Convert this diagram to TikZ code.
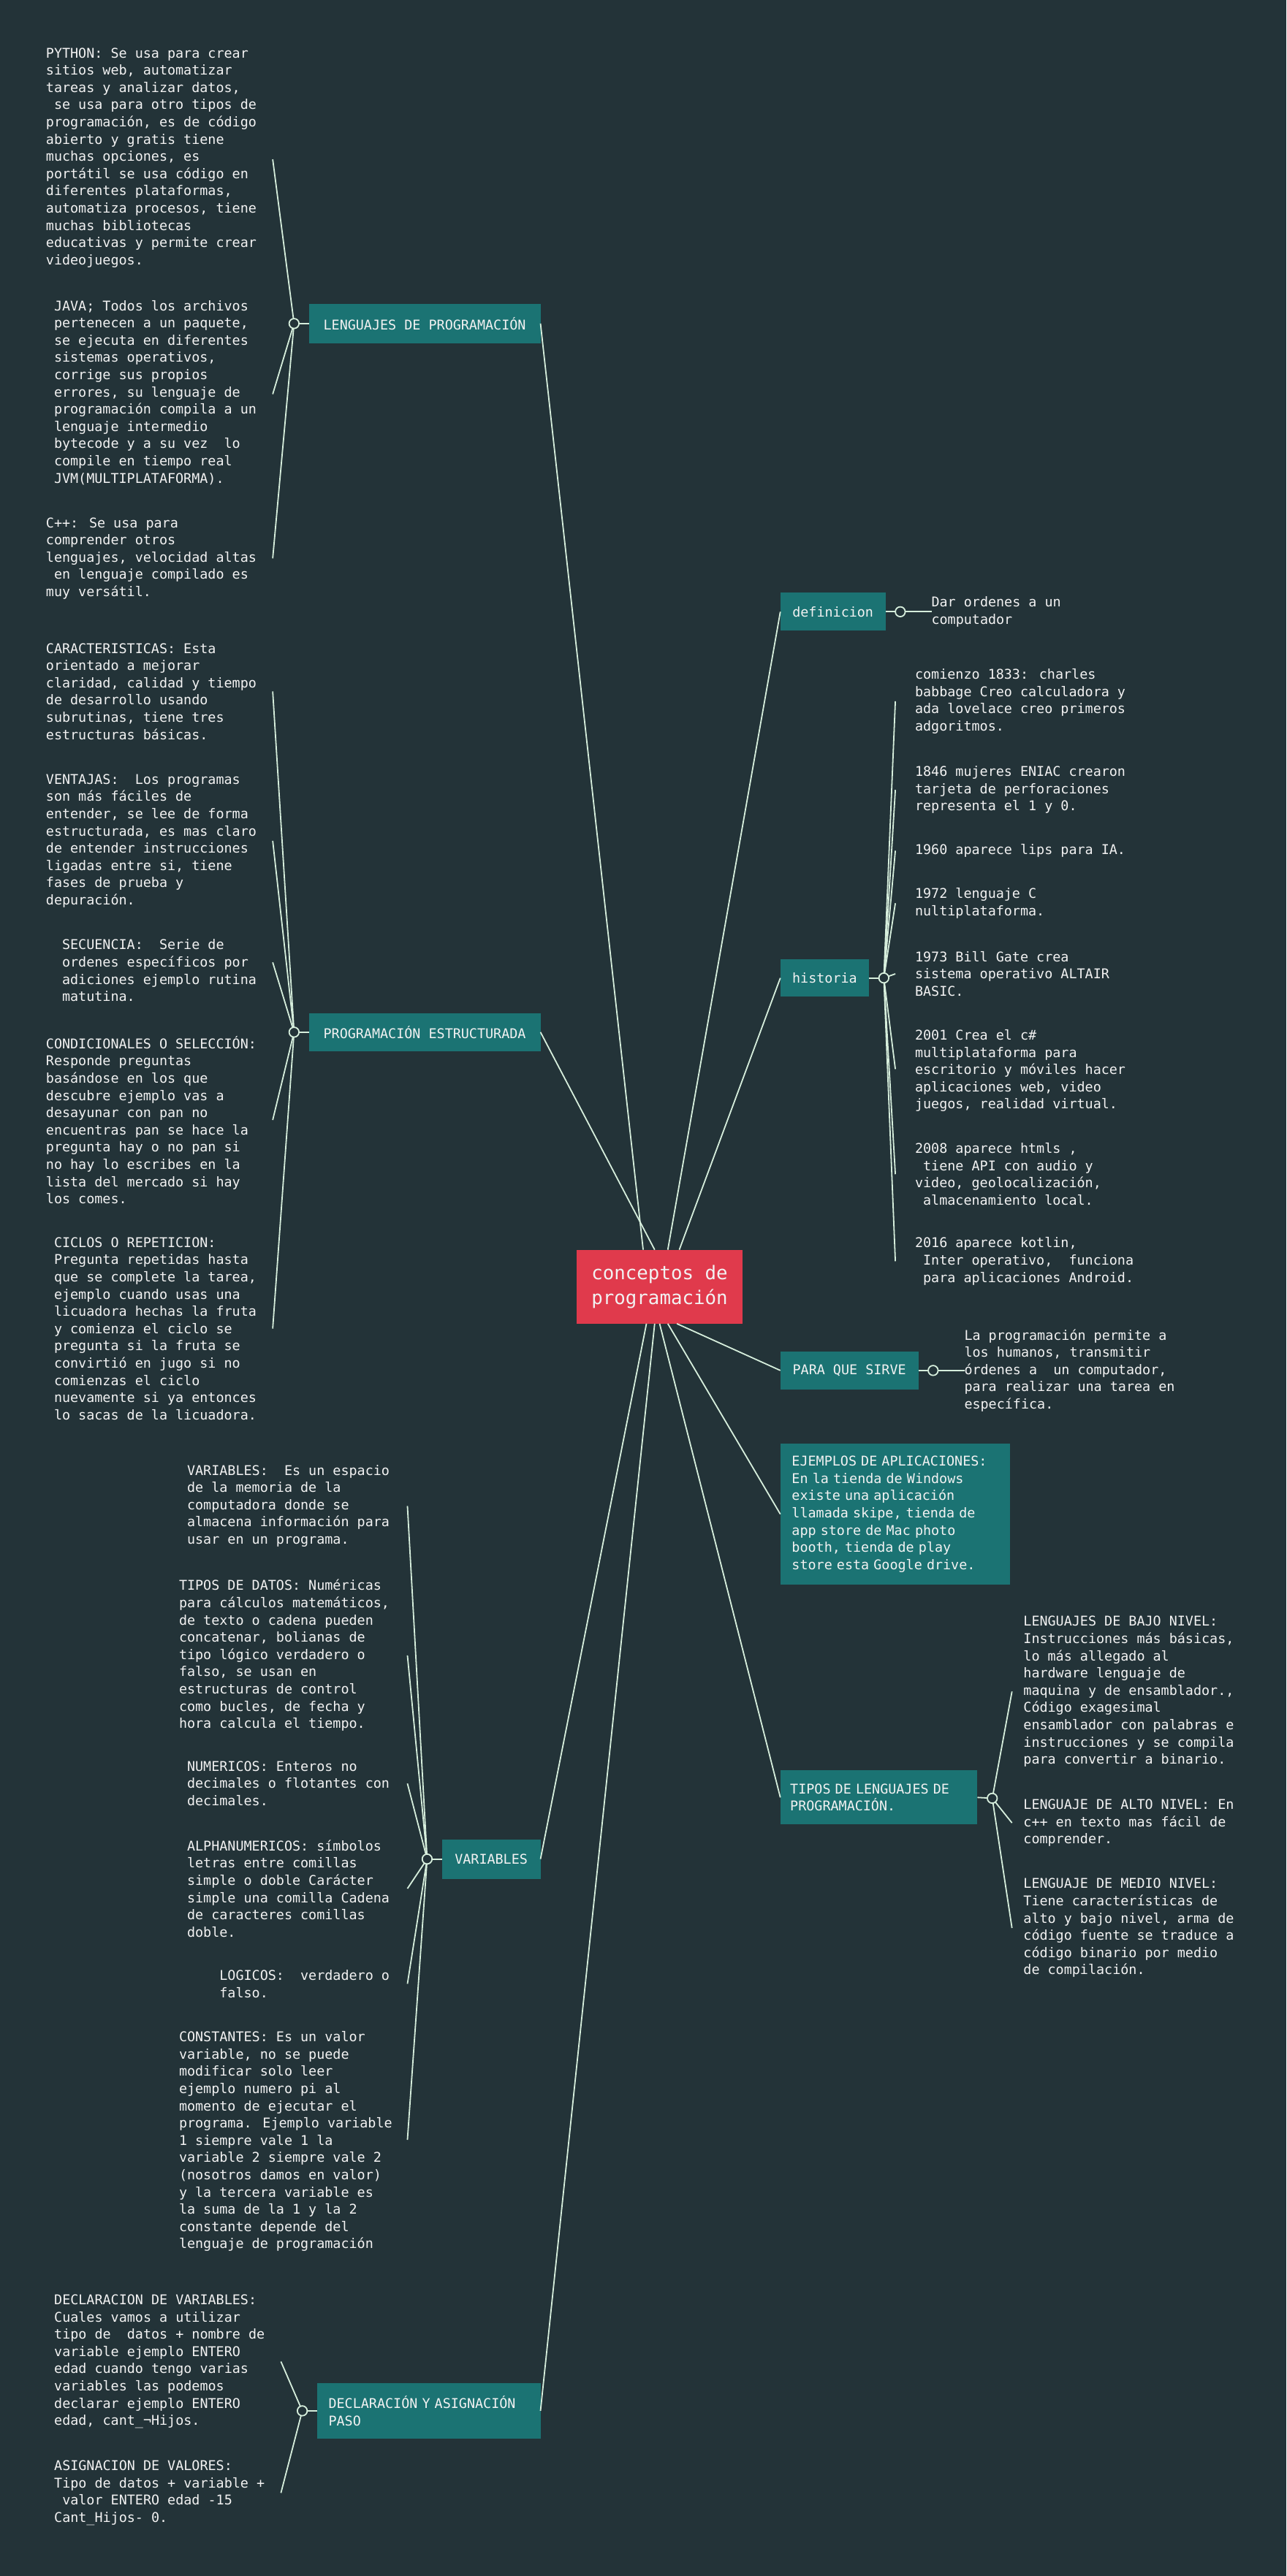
\documentclass[tikz,border=0pt]{standalone}
\usepackage{fontspec}
\setmainfont{DejaVu Sans Mono}
\newfontfamily\mono{DejaVu Sans Mono}
\newdimen\dunit \dunit=1.124pt
\definecolor{bg}{HTML}{233338}
\definecolor{teal}{HTML}{1B7373}
\definecolor{redc}{HTML}{E03A4C}
\definecolor{ln}{HTML}{D6EEDC}
\definecolor{tx}{HTML}{F2F2F2}
\begin{document}
\begin{tikzpicture}[x=1.124pt,y=-1.124pt,
  every node/.style={inner sep=0pt,outer sep=0pt,text=tx,font=\mono\fontsize{9.2}{11.8}\selectfont},
  txt/.style={anchor=west,align=left},
  box/.style={fill=teal,align=center},
  hub/.style={circle,draw=ln,fill=bg,line width=0.9pt,minimum size=6\dunit},
  link/.style={draw=ln,line width=0.9pt}]
\fill[bg] (0,0) rectangle (783,1568.6);
\useasboundingbox (0,0) rectangle (783,1568.6);

% central
\node[fill=redc,align=center,minimum width=101\dunit,minimum height=45\dunit,font=\mono\fontsize{12.9}{17}\selectfont] (c) at (401.5,783.5) {conceptos de\\programación};

% boxes
\node[box,minimum width=141\dunit,minimum height=24\dunit] (leng) at (258.5,197) {LENGUAJES DE PROGRAMACIÓN};
\node[box,minimum width=141\dunit,minimum height=23\dunit] (pe) at (258.5,628.5) {PROGRAMACIÓN ESTRUCTURADA};
\node[box,minimum width=64\dunit,minimum height=23\dunit] (def) at (507,372.5) {definicion};
\node[box,minimum width=54\dunit,minimum height=23\dunit] (hist) at (502,595.5) {historia};
\node[box,minimum width=84\dunit,minimum height=23\dunit] (para) at (517,834.5) {PARA QUE SIRVE};
\node[box,minimum width=140\dunit,minimum height=86\dunit,align=left,text width=126\dunit] (ejem) at (545,922) {EJEMPLOS DE APLICACIONES:\\En la tienda de Windows\\existe una aplicación\\llamada skipe, tienda de\\app store de Mac photo\\booth, tienda de play\\store esta Google drive.};
\node[box,minimum width=120\dunit,minimum height=33\dunit,align=left,text width=108\dunit] (tipos) at (535,1094.5) {TIPOS DE LENGUAJES DE\\PROGRAMACIÓN.};
\node[box,minimum width=60\dunit,minimum height=24\dunit] (vars) at (299,1132) {VARIABLES};
\node[box,minimum width=136\dunit,minimum height=34\dunit,align=left,text width=122\dunit] (decl) at (261,1468) {DECLARACIÓN Y ASIGNACIÓN\\PASO};

% connectors from center
\draw[link] (c.north) ++(-10,0) coordinate (c1) -- (leng.east);
\draw[link] (c.north) ++(-3,0) coordinate (c2) -- (pe.east);
\draw[link] (c.north) ++(5,0) coordinate (c3) -- (def.west);
\draw[link] (c.north) ++(12,0) coordinate (c4) -- (hist.west);
\draw[link] (c.south east) ++(-40,0) coordinate (c5) -- (para.west);
\draw[link] (c.south) ++(5,0) coordinate (c6) -- (ejem.west);
\draw[link] (c.south) ++(0,0) coordinate (c7) -- (tipos.west);
\draw[link] (c.south) ++(-8,0) coordinate (c8) -- (vars.east);
\draw[link] (c.south) ++(-3,0) coordinate (c9) -- (decl.east);

% hubs
\node[hub] (hleng) at (179,197) {};
\node[hub] (hpe) at (179,628.5) {};
\node[hub] (hdef) at (548,372.5) {};
\node[hub] (hhist) at (538,595.5) {};
\node[hub] (hpara) at (568,834.5) {};
\node[hub] (htipos) at (604,1095) {};
\node[hub] (hvars) at (260,1132) {};
\node[hub] (hdecl) at (184,1468) {};
\draw[link] (leng.west) -- (hleng);
\draw[link] (pe.west) -- (hpe);
\draw[link] (def.east) -- (hdef);
\draw[link] (hist.east) -- (hhist);
\draw[link] (para.east) -- (hpara);
\draw[link] (tipos.east) -- (htipos);
\draw[link] (vars.west) -- (hvars);
\draw[link] (decl.west) -- (hdecl);

% LENGUAJES texts
\node[txt] (t1) at (28,96) {PYTHON: Se usa para crear\\sitios web, automatizar\\tareas y analizar datos,\\~se usa para otro tipos de\\programación, es de código\\abierto y gratis tiene\\muchas opciones, es\\portátil se usa código en\\diferentes plataformas,\\automatiza procesos, tiene\\muchas bibliotecas\\educativas y permite crear\\videojuegos.};
\node[txt] (t2) at (28,239) {~JAVA; Todos los archivos\\~pertenecen a un paquete,\\~se ejecuta en diferentes\\~sistemas operativos,\\~corrige sus propios\\~errores, su lenguaje de\\~programación compila a un\\~lenguaje intermedio\\~bytecode y a su vez~ lo\\~compile en tiempo real\\~JVM(MULTIPLATAFORMA).};
\node[txt] (t3) at (28,340) {C++: Se usa para\\comprender otros\\lenguajes, velocidad altas\\~en lenguaje compilado es\\muy versátil.};
\coordinate (e1) at (166,97); \coordinate (e2) at (166,240); \coordinate (e3) at (166,340);
\foreach \e in {e1,e2,e3} \draw[link] (hleng) -- (\e);

% PROGRAMACION ESTRUCTURADA texts
\node[txt] (t4) at (28,421) {CARACTERISTICAS: Esta\\orientado a mejorar\\claridad, calidad y tiempo\\de desarrollo usando\\subrutinas, tiene tres\\estructuras básicas.};
\node[txt] (t5) at (28,512) {VENTAJAS:~ Los programas\\son más fáciles de\\entender, se lee de forma\\estructurada, es mas claro\\de entender instrucciones\\ligadas entre si, tiene\\fases de prueba y\\depuración.};
\node[txt] (t6) at (28,591) {~~SECUENCIA:~ Serie de\\~~ordenes específicos por\\~~adiciones ejemplo rutina\\~~matutina.};
\node[txt] (t7) at (28,682) {CONDICIONALES O SELECCIÓN:\\Responde preguntas\\basándose en los que\\descubre ejemplo vas a\\desayunar con pan no\\encuentras pan se hace la\\pregunta hay o no pan si\\no hay lo escribes en la\\lista del mercado si hay\\los comes.};
\node[txt] (t8) at (28,809) {~CICLOS O REPETICION:\\~Pregunta repetidas hasta\\~que se complete la tarea,\\~ejemplo cuando usas una\\~licuadora hechas la fruta\\~y comienza el ciclo se\\~pregunta si la fruta se\\~convirtió en jugo si no\\~comienzas el ciclo\\~nuevamente si ya entonces\\~lo sacas de la licuadora.};
\coordinate (e4) at (166,421); \coordinate (e5) at (166,512); \coordinate (e6) at (166,586);
\coordinate (e7) at (166,682); \coordinate (e8) at (166,809);
\foreach \e in {e4,e5,e6,e7,e8} \draw[link] (hpe) -- (\e);

% definicion
\node[txt] (t9) at (567,372.5) {Dar ordenes a un\\computador};
\draw[link] (hdef) -- (t9.west);

% historia
\node[txt] (h1) at (557,427) {comienzo 1833: charles\\babbage Creo calculadora y\\ada lovelace creo primeros\\adgoritmos.};
\node[txt] (h2) at (557,481) {1846 mujeres ENIAC crearon\\tarjeta de perforaciones\\representa el 1 y 0.};
\node[txt] (h3) at (557,518) {1960 aparece lips para IA.};
\node[txt] (h4) at (557,550) {1972 lenguaje C\\nultiplataforma.};
\node[txt] (h5) at (557,593) {1973 Bill Gate crea\\sistema operativo ALTAIR\\BASIC.};
\node[txt] (h6) at (557,652) {2001 Crea el c\#\\multiplataforma para\\escritorio y móviles hacer\\aplicaciones web, video\\juegos, realidad virtual.};
\node[txt] (h7) at (557,715) {2008 aparece htmls ,\\~tiene API con audio y\\video, geolocalización,\\~almacenamiento local.};
\node[txt] (h8) at (557,768) {2016 aparece kotlin,\\~Inter operativo,~ funciona\\~para aplicaciones Android.};
\coordinate (g1) at (545,427); \coordinate (g2) at (545,481); \coordinate (g3) at (545,518);
\coordinate (g4) at (545,550); \coordinate (g5) at (545,593); \coordinate (g6) at (545,651);
\coordinate (g7) at (545,715); \coordinate (g8) at (545,768);
\foreach \e in {g1,g2,g3,g4,g5,g6,g7,g8} \draw[link] (hhist) -- (\e);

% para que sirve
\node[txt] (t10) at (587,834.5) {La programación permite a\\los humanos, transmitir\\órdenes a~ un computador,\\para realizar una tarea en\\específica.};
\draw[link] (hpara) -- (t10.west);

% tipos de lenguajes
\node[txt] (k1) at (623,1030) {LENGUAJES DE BAJO NIVEL:\\Instrucciones más básicas,\\lo más allegado al\\hardware lenguaje de\\maquina y de ensamblador.,\\Código exagesimal\\ensamblador con palabras e\\instrucciones y se compila\\para convertir a binario.};
\node[txt] (k2) at (623,1110) {LENGUAJE DE ALTO NIVEL: En\\c++ en texto mas fácil de\\comprender.};
\node[txt] (k3) at (623,1174) {LENGUAJE DE MEDIO NIVEL:\\Tiene características de\\alto y bajo nivel, arma de\\código fuente se traduce a\\código binario por medio\\de compilación.};
\coordinate (f1) at (616,1030); \coordinate (f2) at (616,1110); \coordinate (f3) at (616,1174);
\foreach \e in {f1,f2,f3} \draw[link] (htipos) -- (\e);

% variables
\node[txt] (v1) at (109,917) {~VARIABLES:~ Es un espacio\\~de la memoria de la\\~computadora donde se\\~almacena información para\\~usar en un programa.};
\node[txt] (v2) at (109,1008) {TIPOS DE DATOS: Numéricas\\para cálculos matemáticos,\\de texto o cadena pueden\\concatenar, bolianas de\\tipo lógico verdadero o\\falso, se usan en\\estructuras de control\\como bucles, de fecha y\\hora calcula el tiempo.};
\node[txt] (v3) at (109,1086) {~NUMERICOS: Enteros no\\~decimales o flotantes con\\~decimales.};
\node[txt] (v4) at (109,1150) {~ALPHANUMERICOS: símbolos\\~letras entre comillas\\~simple o doble Carácter\\~simple una comilla Cadena\\~de caracteres comillas\\~doble.};
\node[txt] (v5) at (109,1208) {~~~~~LOGICOS:~ verdadero o\\~~~~~falso.};
\node[txt] (v6) at (109,1304) {CONSTANTES: Es un valor\\variable, no se puede\\modificar solo leer\\ejemplo numero pi al\\momento de ejecutar el\\programa. Ejemplo variable\\1 siempre vale 1 la\\variable 2 siempre vale 2\\(nosotros damos en valor)\\y la tercera variable es\\la suma de la 1 y la 2\\constante depende del\\lenguaje de programación};
\coordinate (w1) at (248,917); \coordinate (w2) at (248,1008); \coordinate (w3) at (248,1086);
\coordinate (w4) at (248,1150); \coordinate (w5) at (248,1208); \coordinate (w6) at (248,1303);
\foreach \e in {w1,w2,w3,w4,w5,w6} \draw[link] (hvars) -- (\e);

% declaracion
\node[txt] (d1) at (33,1438) {DECLARACION DE VARIABLES:\\Cuales vamos a utilizar\\tipo de~ datos + nombre de\\variable ejemplo ENTERO\\edad cuando tengo varias\\variables las podemos\\declarar ejemplo ENTERO\\edad, cant\_¬Hijos.};
\node[txt] (d2) at (33,1518) {ASIGNACION DE VALORES:\\Tipo de datos + variable +\\~valor ENTERO edad -15\\Cant\_Hijos- 0.};
\coordinate (x1) at (171,1438); \coordinate (x2) at (171,1518);
\foreach \e in {x1,x2} \draw[link] (hdecl) -- (\e);
\end{tikzpicture}
\end{document}
